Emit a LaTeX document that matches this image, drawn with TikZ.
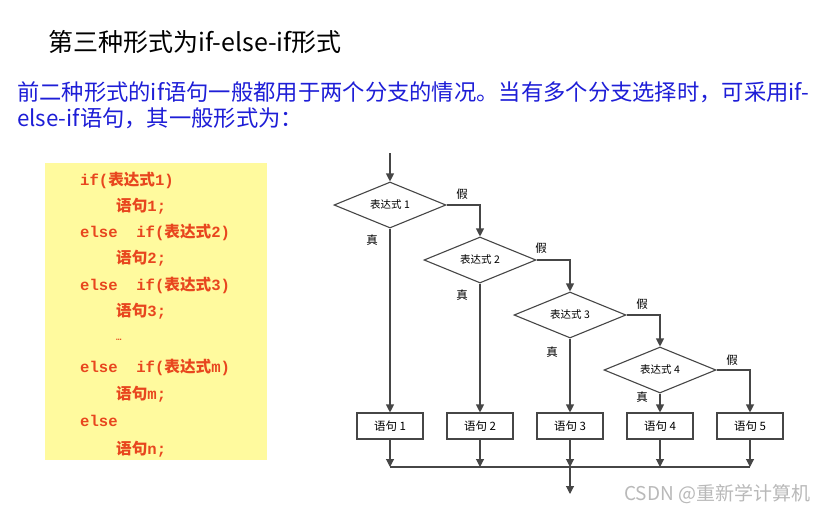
\documentclass[tikz,border=0pt]{standalone}
\usepackage{fontspec}
\setmainfont{Noto Sans CJK SC}
\newfontfamily\zhfont{Noto Sans CJK SC}
\newfontfamily\codefont{Liberation Mono}
\usetikzlibrary{shapes.geometric,arrows.meta}
\definecolor{titleblue}{RGB}{30,30,215}
\definecolor{codered}{RGB}{232,70,30}
\definecolor{codebg}{RGB}{255,250,158}
\definecolor{linegray}{RGB}{70,70,70}
\newcommand{\cd}[1]{{\codefont\bfseries #1}}
\newcommand{\zh}[1]{{\zhfont\bfseries #1}}
\begin{document}
\begin{tikzpicture}[x=1pt,y=-1pt,
  codeline/.style={anchor=west,inner sep=0pt,text=codered,font=\fontsize{15.6}{15.6}\selectfont},
  decision/.style={diamond,draw=linegray,line width=1.1pt,aspect=2.4,minimum width=112pt,minimum height=46pt,inner sep=0pt,font=\fontsize{10.5}{11}\selectfont},
  stmt/.style={rectangle,draw=linegray,line width=1.1pt,minimum width=66pt,minimum height=26pt,inner sep=0pt,font=\fontsize{11.5}{12}\selectfont},
  flow/.style={draw=linegray,line width=1.1pt},
  arr/.style={flow,-{Triangle[length=8pt,width=8pt]}},
  tf/.style={inner sep=0pt,font=\fontsize{11.5}{12}\selectfont}]
\useasboundingbox (0,0) rectangle (831,514);
\fill[white] (0,0) rectangle (831,514);

% title and introduction
\node[anchor=west,inner sep=0pt,font=\fontsize{25}{25}\selectfont] (title) at (48,42) {第三种形式为if-else-if形式};
\node[anchor=west,inner sep=0pt,text=titleblue,font=\fontsize{22.3}{22}\selectfont] (intro1) at (17,92) {前二种形式的if语句一般都用于两个分支的情况。当有多个分支选择时，可采用if-};
\node[anchor=west,inner sep=0pt,text=titleblue,font=\fontsize{22.3}{22}\selectfont] (intro2) at (17,118) {else-if语句，其一般形式为：};

% code box
\fill[codebg] (45,163) rectangle (267,460);
\node[codeline] (c1) at (80,180) {\cd{if(}\zh{表达式}\cd{1)}};
\node[codeline] (c2) at (116,206) {\zh{语句}\cd{1;}};
\node[codeline] (c3) at (80,232) {\cd{else\ \ if(}\zh{表达式}\cd{2)}};
\node[codeline] (c4) at (116,258) {\zh{语句}\cd{2;}};
\node[codeline] (c5) at (80,285) {\cd{else\ \ if(}\zh{表达式}\cd{3)}};
\node[codeline] (c6) at (116,311) {\zh{语句}\cd{3;}};
\node[codeline,font=\fontsize{9}{9}\selectfont] (c7) at (116,340) {\cd{…}};
\node[codeline] (c8) at (80,367) {\cd{else\ \ if(}\zh{表达式}\cd{m)}};
\node[codeline] (c9) at (116,394) {\zh{语句}\cd{m;}};
\node[codeline] (c10) at (80,421) {\cd{else}};
\node[codeline] (c11) at (116,449) {\zh{语句}\cd{n;}};

% flowchart
\coordinate (start) at (390,153);
\node[decision] (d1) at (390,205) {表达式 1};
\node[decision] (d2) at (480,260) {表达式 2};
\node[decision] (d3) at (570,315) {表达式 3};
\node[decision] (d4) at (660,370) {表达式 4};
\node[stmt] (b1) at (390,426) {语句 1};
\node[stmt] (b2) at (480,426) {语句 2};
\node[stmt] (b3) at (570,426) {语句 3};
\node[stmt] (b4) at (660,426) {语句 4};
\node[stmt] (b5) at (750,426) {语句 5};
\coordinate (m1) at (390,467);
\coordinate (m2) at (480,467);
\coordinate (m3) at (570,467);
\coordinate (m4) at (660,467);
\coordinate (m5) at (750,467);
\coordinate (exit) at (570,494);

\draw[arr] (start) -- (d1.north);
\draw[arr] (d1.east) -| (d2.north);
\draw[arr] (d2.east) -| (d3.north);
\draw[arr] (d3.east) -| (d4.north);
\draw[arr] (d4.east) -| (b5.north);
\draw[arr] (d1.south) -- (b1.north);
\draw[arr] (d2.south) -- (b2.north);
\draw[arr] (d3.south) -- (b3.north);
\draw[arr] (d4.south) -- (b4.north);
\draw[arr] (b1.south) -- (m1);
\draw[arr] (b2.south) -- (m2);
\draw[arr] (b3.south) -- (m3);
\draw[arr] (b4.south) -- (m4);
\draw[arr] (b5.south) -- (m5);
\draw[flow] (m1) -- (m5);
\draw[arr] (m3) -- (exit);

% branch labels
\node[tf] (f1) at (462,194) {假};
\node[tf] (f2) at (541,248) {假};
\node[tf] (f3) at (642,304) {假};
\node[tf] (f4) at (732,360) {假};
\node[tf] (t1) at (372,240) {真};
\node[tf] (t2) at (462,295) {真};
\node[tf] (t3) at (552,352) {真};
\node[tf] (t4) at (642,397) {真};

% watermark
\node[anchor=west,inner sep=0pt,text={rgb,255:red,185;green,185;blue,185},font=\fontsize{19}{19}\selectfont] (wm) at (624,494) {CSDN @重新学计算机};
\end{tikzpicture}
\end{document}
